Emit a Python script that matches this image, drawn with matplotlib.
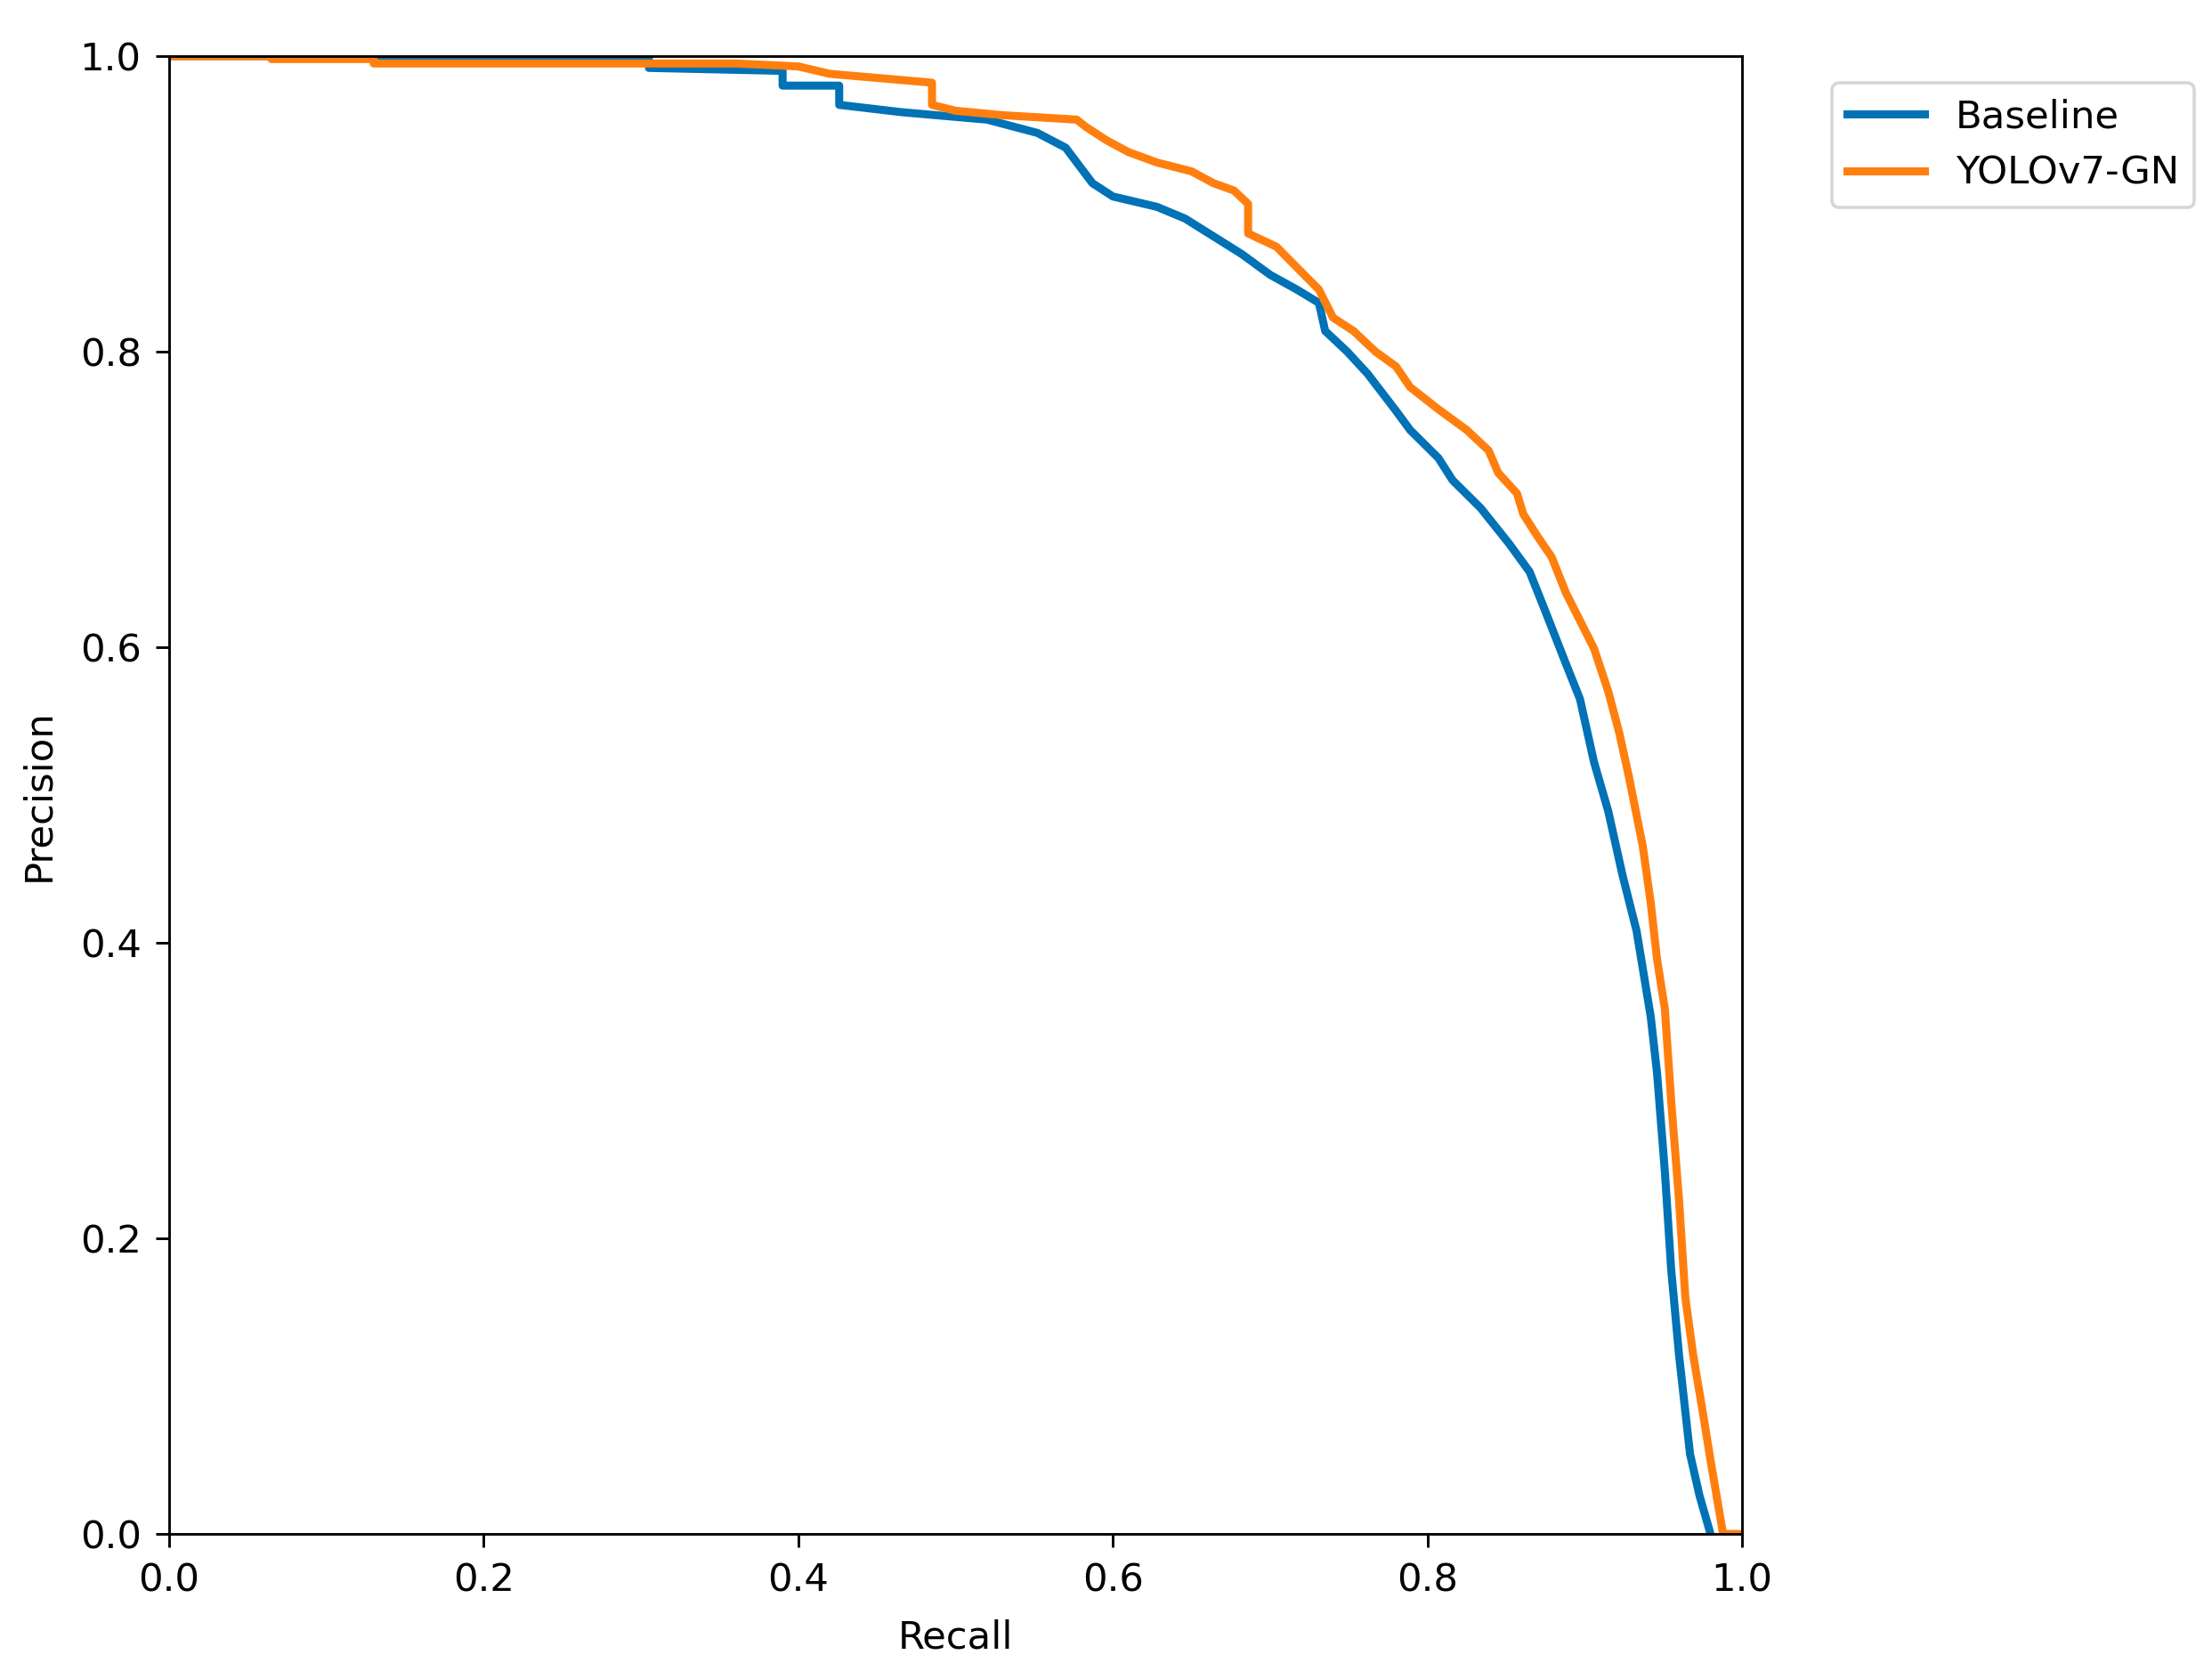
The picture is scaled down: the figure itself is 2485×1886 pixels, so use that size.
import matplotlib
matplotlib.use('Agg')
import matplotlib.pyplot as plt

# PR curve values
recall_base = [0.0, 0.305, 0.305, 0.390, 0.390, 0.426, 0.426, 0.466, 0.520, 0.552,
               0.570, 0.587, 0.600, 0.628, 0.646, 0.664, 0.682, 0.700, 0.717, 0.731,
               0.735, 0.749, 0.762, 0.780, 0.789, 0.807, 0.816, 0.834, 0.852, 0.865,
               0.874, 0.888, 0.897, 0.906, 0.915, 0.924, 0.933, 0.942, 0.946, 0.951,
               0.955, 0.960, 0.967, 0.973, 0.980]
prec_base = [1.0, 1.0, 0.992, 0.990, 0.980, 0.980, 0.967, 0.962, 0.957, 0.948,
             0.938, 0.914, 0.905, 0.898, 0.890, 0.878, 0.866, 0.852, 0.842, 0.833,
             0.814, 0.800, 0.785, 0.760, 0.747, 0.728, 0.713, 0.694, 0.670, 0.651,
             0.627, 0.589, 0.565, 0.522, 0.489, 0.446, 0.408, 0.350, 0.312, 0.245,
             0.179, 0.121, 0.054, 0.026, 0.0]

recall_gn = [0.0, 0.065, 0.065, 0.13, 0.13, 0.36, 0.40, 0.42, 0.485, 0.485,
             0.500, 0.530, 0.577, 0.583, 0.596, 0.610, 0.628, 0.650, 0.664, 0.677,
             0.686, 0.686, 0.704, 0.717, 0.731, 0.740, 0.753, 0.767, 0.780, 0.789,
             0.807, 0.825, 0.839, 0.845, 0.857, 0.861, 0.870, 0.879, 0.888, 0.897,
             0.906, 0.915, 0.922, 0.928, 0.937, 0.942, 0.946, 0.951, 0.955, 0.960,
             0.964, 0.969, 0.975, 0.980, 0.988, 1.0]
prec_gn = [1.0, 1.0, 0.998, 0.998, 0.995, 0.995, 0.993, 0.988, 0.982, 0.967,
           0.963, 0.960, 0.957, 0.952, 0.943, 0.935, 0.928, 0.922, 0.914, 0.909,
           0.900, 0.880, 0.871, 0.857, 0.842, 0.823, 0.814, 0.800, 0.790, 0.776,
           0.761, 0.747, 0.733, 0.718, 0.704, 0.690, 0.675, 0.661, 0.637, 0.618,
           0.599, 0.570, 0.542, 0.513, 0.465, 0.427, 0.389, 0.355, 0.293, 0.226,
           0.160, 0.121, 0.083, 0.050, 0.0, 0.0]

plt.rcParams['font.size'] = 12

fig = plt.figure(figsize=(2485 / 260, 1886 / 260), dpi=260)
ax = fig.add_axes([0.0765, 0.0864, 0.711, 0.8802])

ax.plot(recall_base, prec_base, color='#0072b5', linewidth=2.5, label='Baseline')
ax.plot(recall_gn, prec_gn, color='#ff7f0e', linewidth=2.5, label='YOLOv7-GN')

ax.set_xlim(0, 1)
ax.set_ylim(0, 1)
ax.tick_params(labelsize=12, length=4.2, pad=4.5)
ax.set_xlabel('Recall', fontsize=12, labelpad=6)
ax.set_ylabel('Precision', fontsize=12, labelpad=7)
ax.legend(loc='upper left', bbox_to_anchor=(1.045, 0.995), fontsize=12)

fig.savefig('out.png', dpi=260)
